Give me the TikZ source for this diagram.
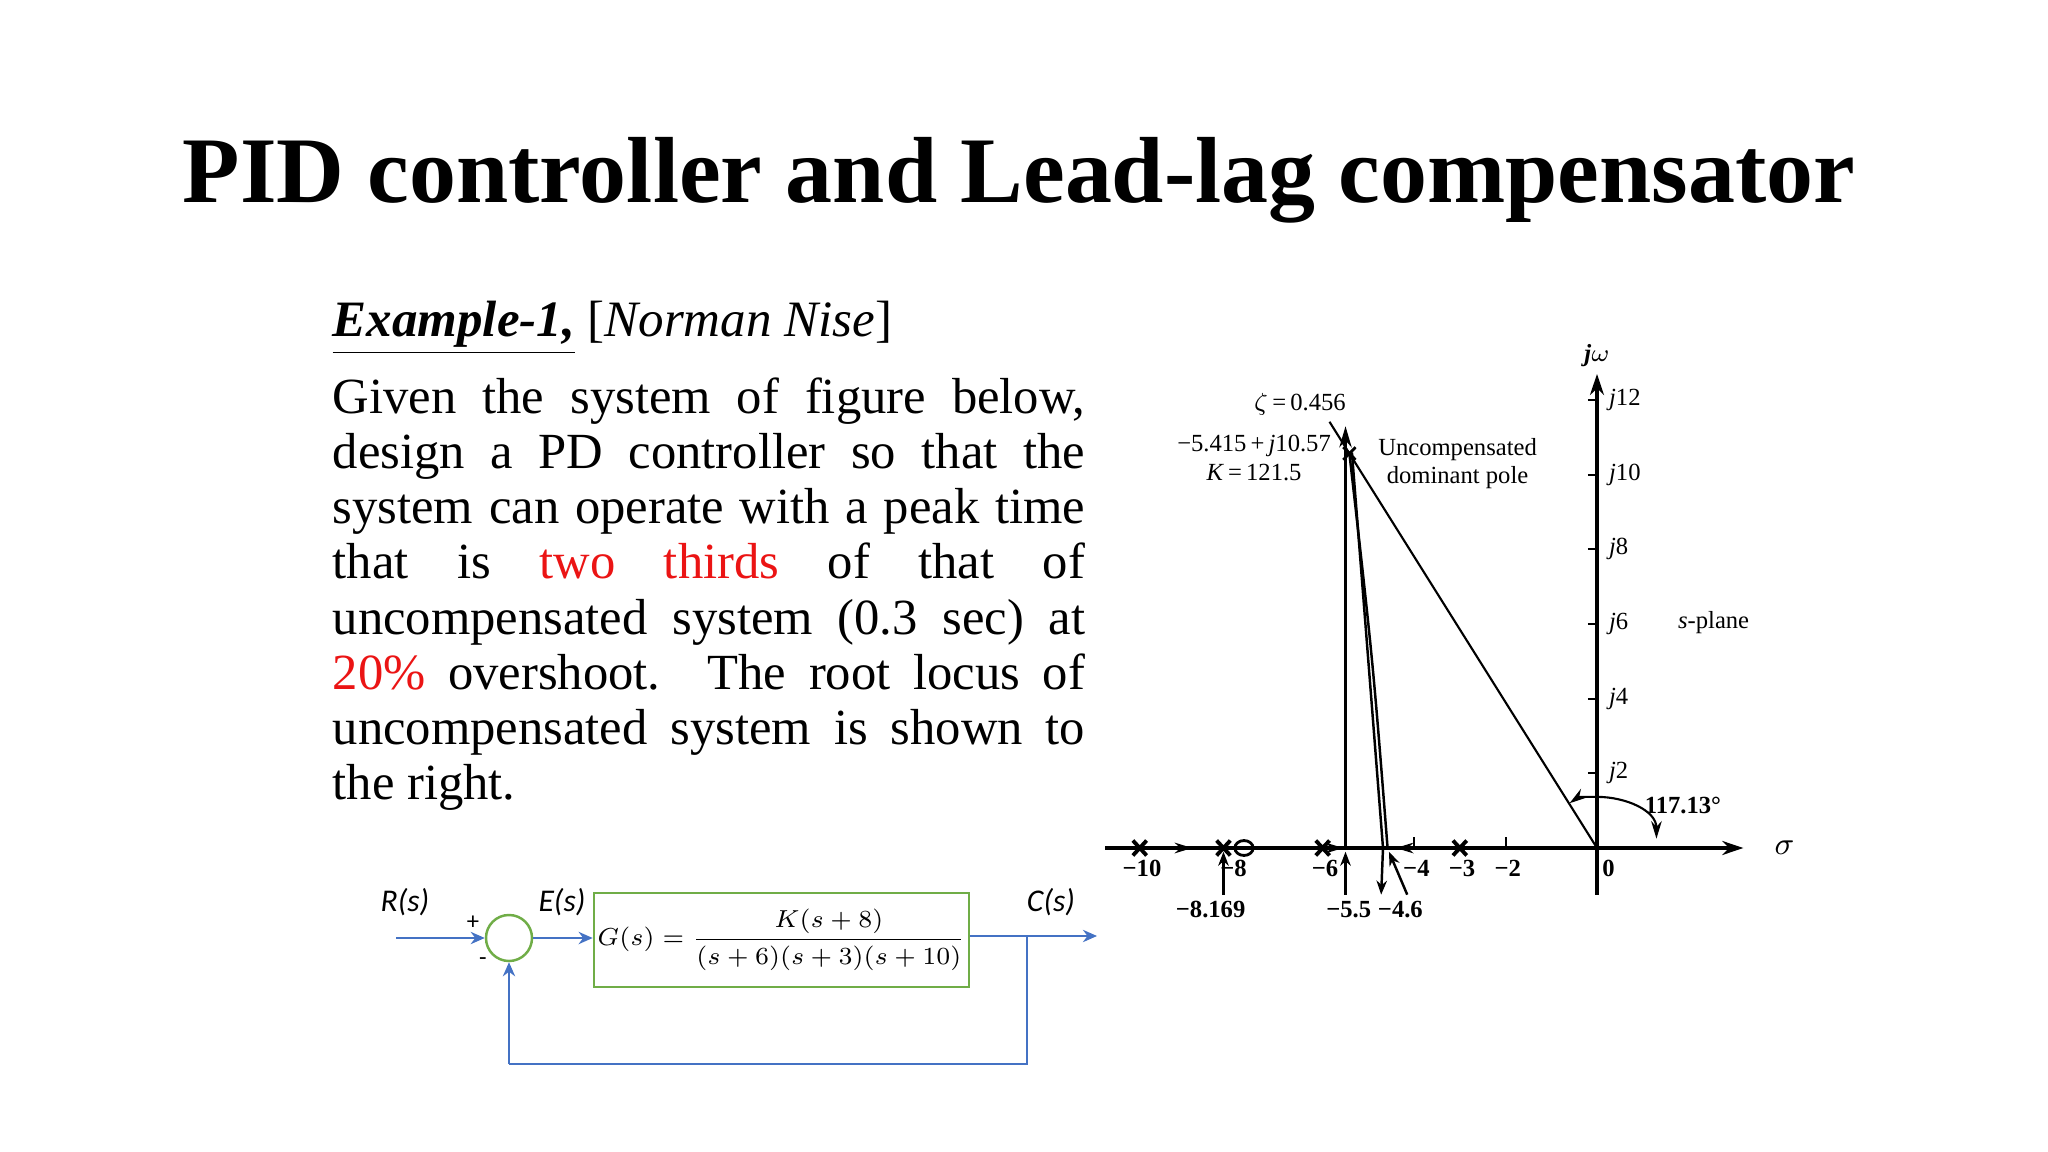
\documentclass[tikz,border=0pt]{standalone}
\usepackage{fontspec}
\setmainfont{Liberation Serif}
\newfontfamily\carlitofont{Carlito}
\usetikzlibrary{arrows.meta}
\definecolor{myred}{RGB}{235,20,20}
\definecolor{bblue}{RGB}{68,114,196}
\definecolor{bgreen}{RGB}{112,173,71}
\begin{document}
\begin{tikzpicture}[x=0.01cm,y=-0.01cm,
  bl/.style={bblue,line width=0.6pt},
  blar/.style={bl,-{Stealth[length=4pt,width=3.5pt]}},
  ax/.style={line width=0.9pt},
  axar/.style={ax,-{Stealth[length=6pt,width=4pt]}},
  lab/.style={font=\fontsize{7}{8}\selectfont,inner sep=0pt},
  blab/.style={font=\fontsize{7}{8}\selectfont\bfseries,inner sep=0pt},
  crs/.style={line width=1.1pt},
  sm/.style={line width=0.7pt,-{Stealth[length=4pt,width=3pt]}}]
\useasboundingbox (0,0) rectangle (2048,1152);
\fill[white] (0,0) rectangle (2048,1152);
% title
\node[font=\fontsize{26.7}{30}\selectfont\bfseries,anchor=base] (title) at (1019,203) {PID controller and Lead-lag compensator};
% example
\node[font=\fontsize{14.5}{16}\selectfont,anchor=base west,inner sep=0pt] (ex) at (332,337) {\underline{\textbf{\textit{Example-1,}}} [\textit{Norman Nise}]};
\node[font=\fontsize{14.4}{15.7}\selectfont,anchor=north west,inner sep=0pt,text width=7.52cm,align=justify] (body) at (332,377)
{\hyphenpenalty=10000 Given the system of figure below,\linebreak design a PD controller so that the\linebreak system can operate with a peak time\linebreak that is \textcolor{myred}{two thirds} of that of\linebreak uncompensated system (0.3 sec) at\linebreak \textcolor{myred}{20\%} overshoot. The root locus of\linebreak uncompensated system is shown to\linebreak the right.};
% block diagram
\node[draw=bgreen,line width=0.7pt,circle,minimum size=0.46cm,inner sep=0pt] (sum) at (509,938) {};
\node[draw=bgreen,line width=0.7pt,minimum width=3.75cm,minimum height=0.94cm,inner sep=0pt,font=\fontsize{7}{9}\selectfont] (G) at (781.5,940) {$\displaystyle G(s)=\frac{K(s+8)}{(s+6)(s+3)(s+10)}$};
\coordinate (in) at (396,938);
\coordinate (out) at (1097,936);
\coordinate (tap) at (1027,936);
\coordinate (fb) at (1027,1064);
\coordinate (fb2) at (509,1064);
\draw[blar] (in) -- (sum.west);
\draw[blar] (sum.east) -- (G.west|-sum.east);
\draw[blar] (G.east|-out) -- (out);
\draw[bl] (tap) -- (fb) -- (fb2);
\draw[blar] (fb2) -- (sum.south);
\node[font=\carlitofont\itshape\fontsize{9}{10}\selectfont] (R) at (405,902) {R(s)};
\node[font=\carlitofont\itshape\fontsize{9}{10}\selectfont] (E) at (562,902) {E(s)};
\node[font=\carlitofont\itshape\fontsize{9}{10}\selectfont] (C) at (1051,902) {C(s)};
\node[font=\carlitofont\fontsize{7}{8}\selectfont] (plus) at (473,923) {+};
\node[font=\carlitofont\fontsize{7}{8}\selectfont] (minus) at (483,962) {-};
% root locus
\begin{scope}[shift={(1597,848)},x=0.457cm,y=0.373cm]
\coordinate (O) at (0,0);
\coordinate (xl) at (-10.75,0);
\coordinate (xr) at (3.2,0);
\coordinate (yb) at (0,-1.25);
\coordinate (yt) at (0,12.7);
\draw[axar] (xl) -- (xr);
\draw[axar] (yb) -- (yt);
\node[lab,font=\fontsize{9}{9}\selectfont\itshape] (sig) at (4.1,0) {$\sigma$};
\node[lab,font=\fontsize{7}{8}\selectfont\itshape\bfseries] (jw) at (0,13.2) {j$\omega$};
\foreach \k in {2,4,...,12}{
  \draw[line width=0.6pt] (-0.2,\k) -- (0,\k);
  \node[lab,anchor=west] (jl\k) at (0.25,\k) {\textit{j}\k};
}
\draw[line width=0.6pt] (-2,0) -- (-2,0.3);
\draw[line width=0.6pt] (-4,0) -- (-4,0.3);
\foreach \p/\t in {-10/{−10},-8/{−8},-6/{−6},-4/{−4},-3/{−3},-2/{−2}}{
  \node[blab] at (\p+0.05,-0.55) {\t};}
\node[blab] (zero) at (0.25,-0.55) {0};
\node[blab] (l8) at (-8.45,-1.65) {−8.169};
\node[blab] (l55) at (-5.43,-1.65) {−5.5};
\node[blab] (l46) at (-4.3,-1.65) {−4.6};
% poles and zero
\foreach \p in {-10,-8.169,-6,-3}{\draw[crs] (\p-0.15,-0.2) -- (\p+0.15,0.2) (\p-0.15,0.2) -- (\p+0.15,-0.2);}
\draw[line width=0.8pt] (-7.72,0) circle (0.2);
% locus
\coordinate (dom) at (-5.415,10.57);
\draw[line width=0.8pt,-{Stealth[length=6pt,width=3.5pt]}] (-5.5,0) -- (-5.5,11.3);
\draw[line width=0.7pt] (-4.58,0) .. controls (-4.9,5) .. (dom);
\draw[line width=0.7pt] (-4.68,0) .. controls (-5.0,5) .. (-5.36,10.6);
\draw[line width=0.6pt] (O) -- (-5.85,11.42);
\draw[crs,line width=0.8pt] (-5.55,10.4) -- (-5.28,10.74) (-5.55,10.74) -- (-5.28,10.4);
\draw[ax,-{Stealth[length=5pt,width=3pt]}] (-9.2,0) -- (-8.85,0);
\draw[ax,-{Stealth[length=5pt,width=3pt]}] (-5.9,0) -- (-5.55,0);
\draw[ax,-{Stealth[length=5pt,width=3pt]}] (-4.0,0) -- (-4.4,0);
\draw[sm] (-8.169,-1.25) -- (-8.169,-0.1);
\draw[sm] (-5.5,-1.25) -- (-5.5,-0.1);
\draw[sm] (-4.15,-1.25) -- (-4.55,-0.1);
\draw[sm] (-4.68,0) -- (-4.72,-1.25);
% angle
\draw[line width=0.6pt,{Stealth[length=5pt,width=3pt]}-{Stealth[length=5pt,width=3pt]}] (-0.6,1.2) to[out=35,in=180] (0,1.37) to[out=0,in=90] (1.3,0.25);
\node[lab,font=\fontsize{7}{8}\selectfont\bfseries] (ang) at (1.88,1.13) {117.13°};
\node[lab,font=\fontsize{7}{8}\selectfont] (s) at (2.55,6.03) {\textit{s}-plane};
\node[lab] (zeta) at (-6.5,11.9) {$\zeta$\,=\,0.456};
\node[lab,align=center] (pt) at (-7.5,10.45) {−5.415\,+\,\textit{j}10.57\\\textit{K}\,=\,121.5};
\node[lab,align=center] (unc) at (-3.05,10.3) {Uncompensated\\dominant pole};
\end{scope}
\end{tikzpicture}
\end{document}
